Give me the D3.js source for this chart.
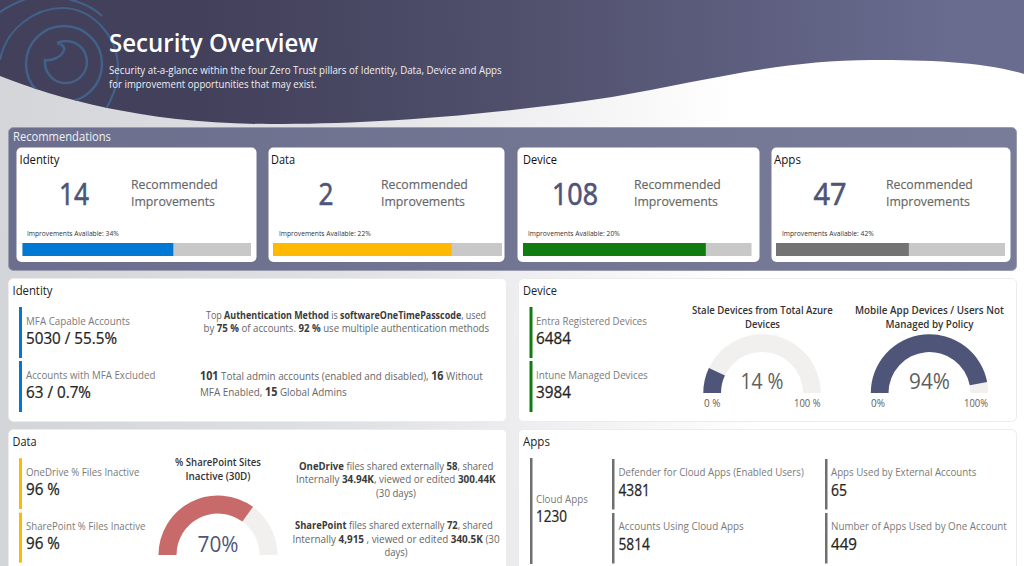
<!DOCTYPE html>
<html><head><meta charset="utf-8">
<script src="https://cdn.jsdelivr.net/npm/d3@7/dist/d3.min.js"></script>
<style>
html,body{margin:0;padding:0;width:1024px;height:566px;overflow:hidden;background:#fff}
svg{display:block}
text{font-family:"Open Sans","Noto Sans",sans-serif;white-space:pre}
</style></head><body>
<svg id="c" width="1024" height="566" viewBox="0 0 1024 566"></svg>
<script>
// ---- data ----
const pillars = ["Identity","Data","Device","Apps"];
const recommendedCounts = [14,2,108,47];
const improvementsAvailablePct = [34,22,20,42];
const pillarColors = ["#0078d4","#ffb900","#107c10","#737373"];
const gaugeValues = {stale:14, mobile:94, sharepoint:70};

// ---- helpers ----
const svg = d3.select("#c");
const defs = svg.append("defs");
function T(x,y,str,o={}){
  const sel = svg.append("text")
    .attr("font-size",o.size||10.5).attr("fill",o.fill||"#333")
    .attr("font-weight",o.weight||400).attr("text-anchor",o.anchor||"start");
  if(o.thick){ sel.attr("stroke",o.fill||"#333").attr("stroke-width",o.thick); }
  const runs = Array.isArray(str)?str:[str];
  runs.forEach(r=>{
    const rr = typeof r==="string"?{t:r}:r;
    const ts = sel.append("tspan").text(rr.t);
    if(rr.b){ts.attr("font-weight",700).attr("fill",o.boldFill||"#3a3a3a");}
    if(rr.size){ts.attr("font-size",rr.size);}
  });
  let k = 1;
  if(o.w){ k = o.w/sel.node().getComputedTextLength(); }
  sel.attr("transform",`translate(${x},${y}) scale(${k},1)`);
  return sel;
}
function panel(x,y,w,h,fill,stroke,r){
  svg.append("rect").attr("x",x+.5).attr("y",y+.5).attr("width",w-1).attr("height",h-1)
    .attr("rx",r||5).attr("fill",fill).attr("stroke",stroke||"none");
}

// ---- background ----
const bg = defs.append("linearGradient").attr("id","bg").attr("gradientUnits","userSpaceOnUse")
  .attr("x1",0).attr("y1",200).attr("x2",740).attr("y2",130);
bg.append("stop").attr("offset",0).attr("stop-color","#d4d5d9");
bg.append("stop").attr("offset",.45).attr("stop-color","#e0e1e4");
bg.append("stop").attr("offset",.72).attr("stop-color","#f0f0f2");
bg.append("stop").attr("offset",1).attr("stop-color","#ffffff");
svg.append("rect").attr("width",1024).attr("height",566).attr("fill","url(#bg)");

const hg = defs.append("linearGradient").attr("id","hg").attr("gradientUnits","userSpaceOnUse")
  .attr("x1",200).attr("y1",60).attr("x2",950).attr("y2",40);
hg.append("stop").attr("offset",0).attr("stop-color","#42405a");
hg.append("stop").attr("offset",.4).attr("stop-color","#4f4f6b");
hg.append("stop").attr("offset",1).attr("stop-color","#696b8f");
const headerD = "M0,76 C60,100 150,124 270,124 C360,124 470,118 612,97 C700,82 780,60 872,60 C930,60 985,62 1024,74 L1024,0 L0,0 Z";
svg.append("path").attr("d",headerD).attr("fill","url(#hg)");
defs.append("clipPath").attr("id","hc").append("path").attr("d",headerD);

// spiral decoration
const sp = svg.append("g").attr("clip-path","url(#hc)").attr("fill","none")
  .attr("stroke","#426088").attr("stroke-width",2.5);
sp.append("path").attr("d","M57,43 A21,21 0 1 1 45,60 C52,61 62,57 64,50 C65,47 62,44 57,43");
sp.append("circle").attr("cx",64).attr("cy",64).attr("r",38);
sp.append("path").attr("d","M0,60 C6,28 36,8 62,8 C92,8 118,36 118,68 C118,86 112,100 104,112").attr("stroke-width",2.2);
sp.append("path").attr("d","M0,12 C8,6 18,2 28,-2 M64,-2 C82,2 94,8 102,16").attr("stroke-width",2.2);

// header text
T(109,52,"Security Overview",{size:25,fill:"#fff",weight:600,w:209});
T(109,74,"Security at-a-glance within the four Zero Trust pillars of Identity, Data, Device and Apps",{size:10.5,fill:"#eeeef2",w:393});
T(109,88,"for improvement opportunities that may exist.",{size:10.5,fill:"#eeeef2",w:208});

// ---- recommendations ----
const rg = defs.append("linearGradient").attr("id","rg").attr("gradientUnits","userSpaceOnUse")
  .attr("x1",8).attr("y1",0).attr("x2",1017).attr("y2",0);
rg.append("stop").attr("offset",0).attr("stop-color","#6b6f8d");
rg.append("stop").attr("offset",1).attr("stop-color","#787c98");
panel(8,127,1009,144,"url(#rg)","#9a9db2",5);
T(13,141,"Recommendations",{size:12,fill:"#eef0f5",w:98});

const cardBox = [[16,241],[268,237],[517,243],[771,240]];
const barBox = [[22.5,251],[273,502],[523,751.5],[776,1005]];
const titleX = [[19.5,40],[271,24],[523,34],[774,27]];
const numC = [74,326,575,830];
const numW = [30,15,46,33];
const recX = [131,381,634,886];
const availX = [27,279,528,782];

pillars.forEach((p,i)=>{
  const [cx,cw] = cardBox[i];
  panel(cx,147,cw,115.5,"#fff","none",5);
  T(titleX[i][0],163.5,p,{size:12,fill:"#111",w:titleX[i][1]});
  T(numC[i],205,String(recommendedCounts[i]),{size:31,fill:"#4e5578",thick:.7,anchor:"middle",w:numW[i]});
  T(recX[i],189,"Recommended",{size:13,fill:"#666",thick:.15,w:87});
  T(recX[i],206,"Improvements",{size:13,fill:"#666",thick:.15,w:84});
  T(availX[i],236,"Improvements Available: "+improvementsAvailablePct[i]+"%",{size:7,fill:"#333",w:92});
  const x = d3.scaleLinear().domain([0,100]).range(barBox[i]);
  svg.append("rect").attr("x",x(0)).attr("y",243).attr("height",13).attr("width",x(100)-x(0)).attr("fill","#c8c8c8");
  svg.append("rect").attr("x",x(0)).attr("y",243).attr("height",13)
    .attr("width",x(100-improvementsAvailablePct[i])-x(0)).attr("fill",pillarColors[i]);
});

// ---- panels ----
panel(8,278,499,144,"#fff","#ececec",5);
panel(518,278,499,144,"#fff","#ececec",5);
panel(8,429,499,150,"#fff","#ececec",5);
panel(518,429,499,150,"#fff","#ececec",5);
T(12.5,295,"Identity",{size:12,fill:"#222",w:40});
T(523,295,"Device",{size:12,fill:"#222",w:34});
T(12.5,445.7,"Data",{size:12,fill:"#222",w:24});
T(523,445.7,"Apps",{size:12,fill:"#222",w:27});

function kpi(bx,by,bh,color,tx,ly,label,lw,vy,value,vw,bw){
  svg.append("rect").attr("x",bx).attr("y",by).attr("width",bw||3).attr("height",bh).attr("fill",color);
  T(tx,ly,label,{size:10.5,fill:"#7a7a7a",w:lw});
  T(tx,vy,value,{size:15.5,fill:"#252423",thick:.25,w:vw});
}
// identity
const mfaLabels = ["MFA Capable Accounts","Accounts with MFA Excluded"];
const mfaValues = ["5030 / 55.5%","63 / 0.7%"];
kpi(19,307,51,"#0078d4",26,324.5,mfaLabels[0],104,344,mfaValues[0],91);
kpi(19,361,51,"#0078d4",26,378.5,mfaLabels[1],129.5,397.5,mfaValues[1],65);
const gText = {size:10.5,fill:"#666"};
T(206,319,["Top ",{t:"Authentication Method",b:1}," is ",{t:"softwareOneTimePasscode",b:1},", used"],{...gText,w:280.5});
T(203.5,332,["by ",{t:"75 %",b:1}," of accounts. ",{t:"92 %",b:1}," use multiple authentication methods"],{...gText,w:286});
T(200,380,[{t:"101",b:1,size:11.5}," Total admin accounts (enabled and disabled), ",{t:"16",b:1,size:11.5}," Without"],{...gText,w:283});
T(200,395.5,["MFA Enabled, ",{t:"15",b:1,size:11.5}," Global Admins"],{...gText,w:147});

// device
const deviceLabels = ["Entra Registered Devices","Intune Managed Devices"];
const deviceValues = ["6484","3984"];
kpi(529.5,307,51,"#107c10",536,324.5,deviceLabels[0],111,344,deviceValues[0],35);
kpi(529.5,361,51,"#107c10",536,378.5,deviceLabels[1],112,397.5,deviceValues[1],35);

function gauge(cx,cy,R,r,val,fill,label,labelFill,labelW,ly){
  const a = d3.scaleLinear().domain([0,100]).range([-Math.PI/2,Math.PI/2]);
  const arc = d3.arc().innerRadius(r).outerRadius(R);
  svg.append("path").attr("transform",`translate(${cx},${cy})`)
    .attr("d",arc({startAngle:a(0),endAngle:a(100)})).attr("fill","#f1f0ef");
  svg.append("path").attr("transform",`translate(${cx},${cy})`)
    .attr("d",arc({startAngle:a(0),endAngle:a(val)})).attr("fill",fill);
  T(cx,ly,label,{size:22,fill:labelFill,anchor:"middle",w:labelW});
}
const hd = {size:10.5,fill:"#333",weight:600};
T(692,314,"Stale Devices from Total Azure",{...hd,w:141});
T(762.5,327.7,"Devices",{...hd,anchor:"middle",w:35});
gauge(762,393,58.7,41,gaugeValues.stale,"#4e5578",gaugeValues.stale+" %","#605e5c",43,389);
T(704,406.7,"0 %",{size:10,fill:"#605e5c",w:16.5});
T(794,406.7,"100 %",{size:10,fill:"#605e5c",w:26.5});
T(855,314,"Mobile App Devices / Users Not",{...hd,w:149});
T(929.5,327.7,"Managed by Policy",{...hd,anchor:"middle",w:88});
gauge(929.5,393,58.7,41,gaugeValues.mobile,"#4e5578",gaugeValues.mobile+"%","#605e5c",41,389);
T(871,406.7,"0%",{size:10,fill:"#605e5c",w:14});
T(964,406.7,"100%",{size:10,fill:"#605e5c",w:24});

// data
const dataLabels = ["OneDrive % Files Inactive","SharePoint % Files Inactive"];
const dataValues = ["96 %","96 %"];
kpi(19,458.3,50.7,"#ffb900",26,475.7,dataLabels[0],113.5,495,dataValues[0],34);
kpi(19,512.7,50,"#ffb900",26,529.7,dataLabels[1],119.5,549,dataValues[1],34);
T(218,466,"% SharePoint Sites",{...hd,anchor:"middle",w:86});
T(218,480,"Inactive (30D)",{...hd,anchor:"middle",w:65});
gauge(218,555,59.5,41.5,gaugeValues.sharepoint,"#c96a6a",gaugeValues.sharepoint+"%","#4e5578",41,551.7);
T(299,469.7,[{t:"OneDrive",b:1}," files shared externally ",{t:"58",b:1},", shared"],{...gText,w:194.5});
T(296,483.3,["Internally ",{t:"34.94K",b:1},", viewed or edited ",{t:"300.44K",b:1}],{...gText,w:200});
T(396,496.7,"(30 days)",{...gText,anchor:"middle",w:40});
T(295,529,[{t:"SharePoint",b:1}," files shared externally ",{t:"72",b:1},", shared"],{...gText,w:198});
T(292.5,542.7,["Internally ",{t:"4,915",b:1}," , viewed or edited ",{t:"340.5K",b:1}," (30"],{...gText,w:207.5});
T(396,556,"days)",{...gText,anchor:"middle",w:23});

// apps
const g = "#6f6f6f";
const appLabels = ["Cloud Apps","Defender for Cloud Apps (Enabled Users)","Accounts Using Cloud Apps","Apps Used by External Accounts","Number of Apps Used by One Account"];
const appValues = ["1230","4381","5814","65","449"];
kpi(530,458,106,g,536,502.7,appLabels[0],52,522,appValues[0],31,2.5);
kpi(612,459,50.5,g,618.5,476,appLabels[1],185.5,495.7,appValues[1],31.5,2.5);
kpi(612,513,50.5,g,618.5,530,appLabels[2],125.5,549.5,appValues[2],31.5,2.5);
kpi(825,459,50.5,g,831,476,appLabels[3],145.5,495.7,appValues[3],16,2.5);
kpi(825,513,50.5,g,831,530,appLabels[4],176,549.5,appValues[4],26,2.5);
</script>
</body></html>
